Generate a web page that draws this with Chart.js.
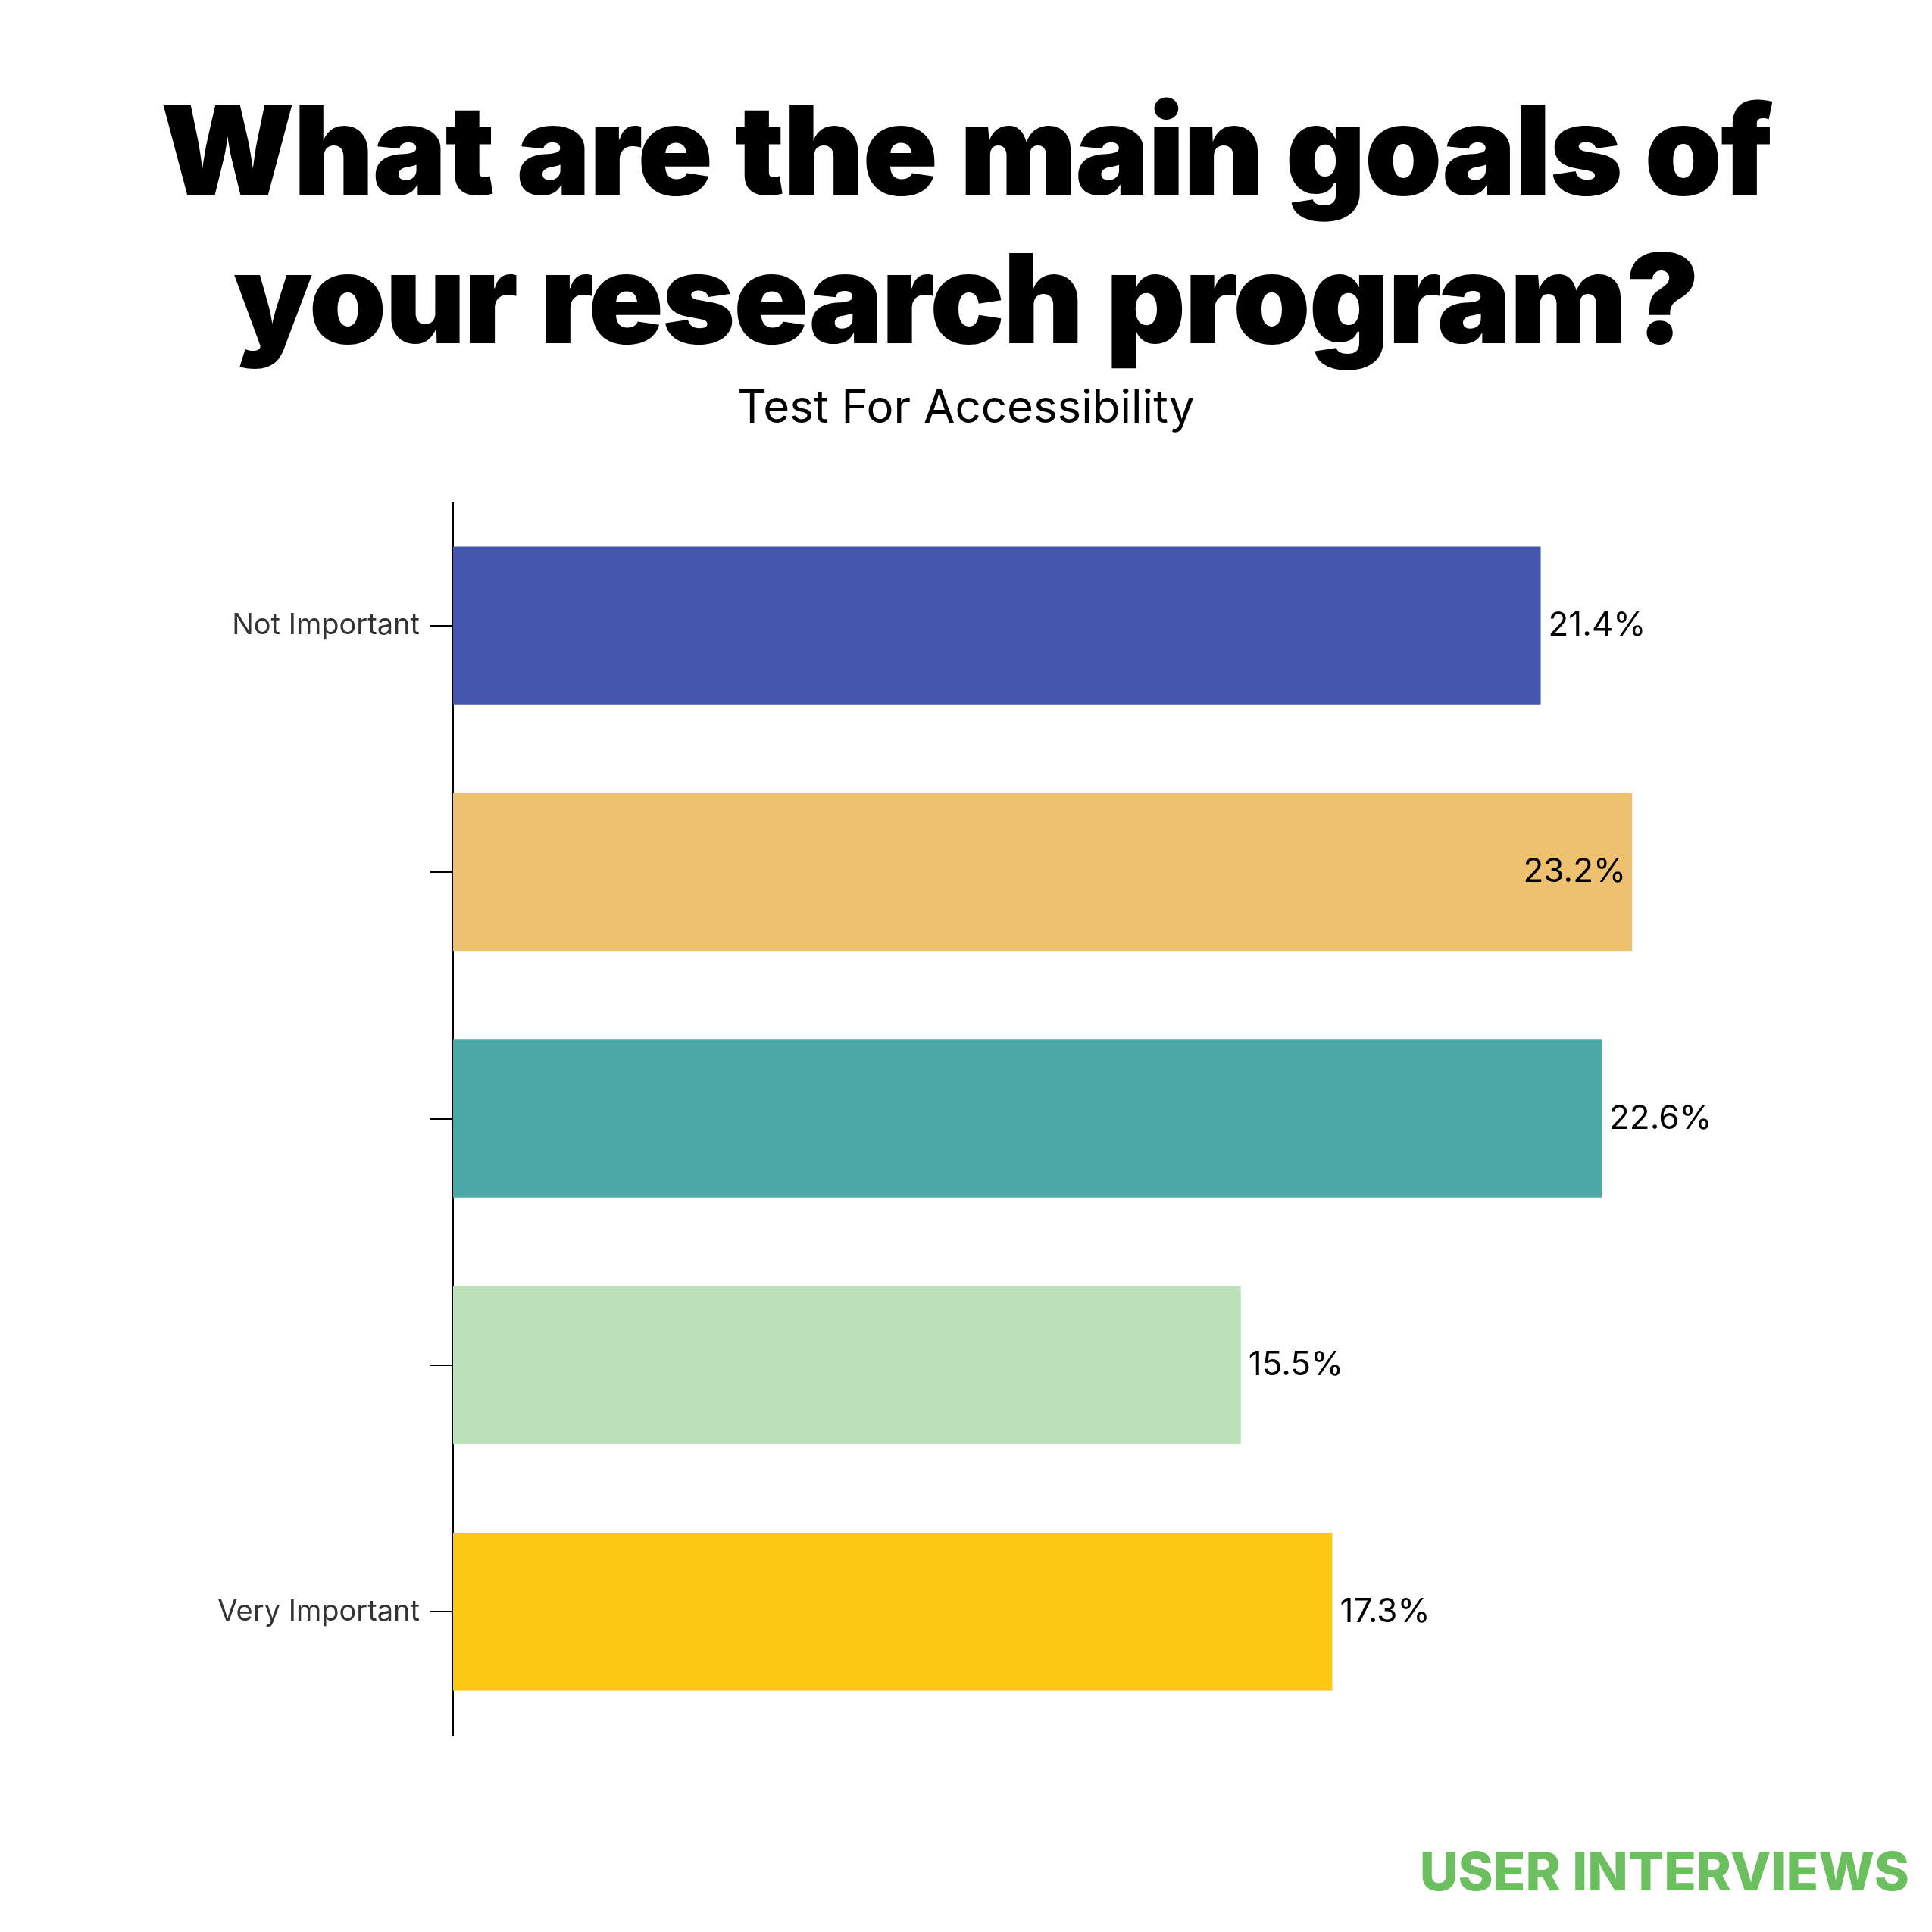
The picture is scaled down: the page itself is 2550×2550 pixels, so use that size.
<!DOCTYPE html>
<html>
<head>
<meta charset="utf-8">
<script src="https://cdn.jsdelivr.net/npm/chart.js@4"></script>
<style>
  html, body { margin: 0; padding: 0; background: #fff; }
  body { width: 2550px; height: 2550px; position: relative; overflow: hidden; font-family: Inter, "Open Sans", sans-serif; }
  #title { position: absolute; top: 100px; left: 0; width: 2550px; text-align: center; font-weight: 900; font-size: 164px; line-height: 196px; letter-spacing: -2px; color: #000; }
  #subtitle { position: absolute; top: 500px; left: 0; width: 2550px; text-align: center; font-size: 60px; color: #000; }
  #brand { position: absolute; right: 30px; bottom: 38px; font-weight: 800; font-size: 70px; color: #6bbf5f; }
  #chart { position: absolute; left: 0; top: 0; }
</style>
</head>
<body>
<div id="title">What are the main goals of<br>your research program?</div>
<div id="subtitle">Test For Accessibility</div>
<canvas id="chart" width="2550" height="2550"></canvas>
<div id="brand">USER INTERVIEWS</div>
<script>
const categories = ['Not Important', '', '', '', 'Very Important'];
const values = [21.4, 23.2, 22.6, 15.5, 17.3];
const colors = ['#4357ad', '#edc170', '#4aa9a7', '#bce0b9', '#fdc914'];

// draws the percent labels at the end of each bar
const valueLabels = {
  id: 'valueLabels',
  afterDatasetsDraw(chart) {
    const ctx = chart.ctx;
    const meta = chart.getDatasetMeta(0);
    const maxVal = Math.max(...values);
    ctx.save();
    ctx.font = '44px Inter, "Open Sans", sans-serif';
    ctx.fillStyle = '#000';
    ctx.textBaseline = 'middle';
    meta.data.forEach((bar, i) => {
      const txt = values[i].toFixed(1) + '%';
      if (values[i] === maxVal) {
        ctx.textAlign = 'right';
        ctx.fillText(txt, bar.x - 8, bar.y);
      } else {
        ctx.textAlign = 'left';
        ctx.fillText(txt, bar.x + 10, bar.y);
      }
    });
    ctx.restore();
  }
};

new Chart(document.getElementById('chart').getContext('2d'), {
  type: 'bar',
  data: {
    labels: categories,
    datasets: [{
      data: values,
      backgroundColor: colors,
      categoryPercentage: 1,
      barPercentage: 0.64
    }]
  },
  options: {
    indexAxis: 'y',
    responsive: false,
    animation: false,
    layout: { padding: { left: 0, top: 663, right: 275, bottom: 260 } },
    plugins: { legend: { display: false }, tooltip: { enabled: false } },
    scales: {
      x: { display: false, min: 0, max: 25 },
      y: {
        afterFit(scale) { scale.width = 598; },
        border: { display: true, color: '#000', width: 2 },
        grid: { offset: false, drawOnChartArea: false, drawTicks: true, tickLength: 30, color: '#000', lineWidth: 2 },
        ticks: { color: '#333', padding: 14, font: { size: 38, family: 'Inter, "Open Sans", sans-serif' } }
      }
    }
  },
  plugins: [valueLabels]
});
</script>
</body>
</html>
